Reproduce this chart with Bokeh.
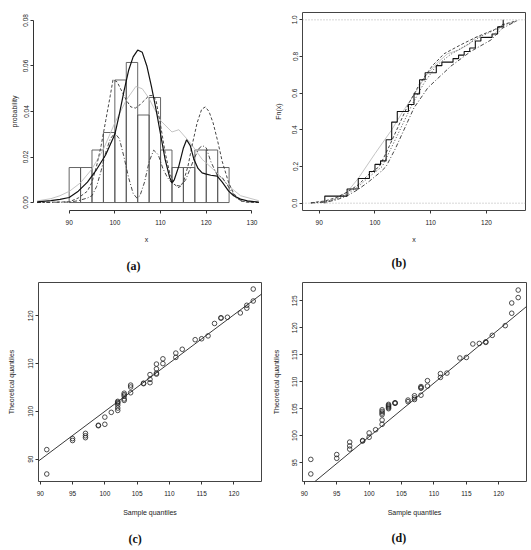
import numpy as np
from bokeh.plotting import figure
from bokeh.layouts import column, row
from bokeh.models import FixedTicker, Span, Slope, Title
from bokeh.embed import file_html
from bokeh.resources import INLINE

# ---------------- data ----------------
sample = [91, 91, 95, 95, 97, 97, 97, 99, 99, 100, 100, 101,
          102, 102, 102, 102, 102, 102, 103, 103, 103, 103, 103,
          104, 104, 104, 106, 106, 107, 107, 107, 108, 108, 108, 108,
          109, 109, 111, 111, 112, 114, 115, 116, 117, 118, 118, 119,
          121, 122, 122, 123, 123]

hist_breaks = [90, 92.5, 95, 97.5, 100, 102.5, 105, 107.5, 110,
               112.5, 115, 117.5, 120, 122.5, 125]

# (a) fitted densities
dens_solid_x = [83, 86, 88, 90, 92, 94, 96, 98, 100, 101, 102, 103, 104, 105, 106,
                107, 108, 109, 110, 111, 112, 112.5, 113, 114, 115, 115.7, 116.5,
                117.3, 118.2, 119.1, 120, 121, 122.4, 123.5, 124.9, 126, 127.5, 129, 131.5]
dens_solid_y = [0.0003, 0.0008, 0.0014, 0.0022, 0.005, 0.009, 0.0145, 0.021, 0.030,
                0.039, 0.049, 0.058, 0.064, 0.067, 0.066, 0.060, 0.051, 0.041, 0.030,
                0.019, 0.011, 0.0087, 0.010, 0.016, 0.024, 0.0276, 0.025, 0.019, 0.015,
                0.013, 0.0125, 0.012, 0.0116, 0.009, 0.005, 0.003, 0.0015, 0.0007, 0.0002]

dens_gray_x = [83, 86, 88, 90.1, 92.5, 94.9, 97.4, 100, 102.5, 104.6, 106, 107.4, 110,
               112.5, 114, 116.6, 119.1, 122.4, 124.9, 127.5, 131.5]
dens_gray_y = [0.0007, 0.0017, 0.003, 0.005, 0.0087, 0.0145, 0.023, 0.035, 0.045, 0.051,
               0.050, 0.046, 0.036, 0.031, 0.032, 0.026, 0.019, 0.013, 0.0073, 0.003, 0.0008]

dens_dash_x = [83, 90, 92, 94, 95, 96, 97, 98, 99, 99.6, 100.5, 101.5, 102.5, 103.5, 104.5,
               105.5, 106.5, 107.5, 108.3, 109, 110, 111, 112, 113, 114, 115, 116, 117, 118,
               119, 119.8, 120.6, 121.5, 122.5, 123.5, 124.9, 126, 127.5, 129, 131.5]
dens_dash_y = [0, 0.0003, 0.002, 0.005, 0.009, 0.016, 0.025, 0.036, 0.047, 0.054, 0.053,
               0.049, 0.045, 0.042, 0.0415, 0.043, 0.045, 0.047, 0.047, 0.045, 0.034, 0.022,
               0.013, 0.008, 0.0065, 0.009, 0.016, 0.026, 0.035, 0.041, 0.042, 0.040, 0.035,
               0.027, 0.018, 0.0087, 0.004, 0.0007, 0.0001, 0]

dens_dd_x = [83, 90, 92, 94, 95, 96, 97, 98, 99, 100, 101, 102, 103, 104, 104.8, 105.5,
             106.5, 107.5, 108.5, 109.5, 110.5, 111.5, 112.5, 113.5, 114.4, 115.5, 116.5,
             117.5, 118.5, 119.2, 120, 121, 122.4, 123.5, 124.5, 125.5, 126.5, 128, 131.5]
dens_dd_y = [0, 0.0002, 0.0008, 0.002, 0.003, 0.007, 0.014, 0.022, 0.028, 0.0305, 0.028,
             0.020, 0.011, 0.004, 0.002, 0.003, 0.009, 0.018, 0.023, 0.021, 0.015, 0.011,
             0.0085, 0.0075, 0.0072, 0.010, 0.015, 0.020, 0.024, 0.025, 0.024, 0.018, 0.012,
             0.011, 0.008, 0.005, 0.002, 0.0005, 0]

# (b) fitted distribution functions
cdf_gray_x = [91, 93, 95, 97, 100, 103, 105, 107, 109, 111, 113, 115, 117, 118, 121, 122, 123]
cdf_gray_y = [0.0, 0.025, 0.06, 0.135, 0.27, 0.40, 0.50, 0.59, 0.69, 0.76, 0.815, 0.835,
              0.87, 0.905, 0.91, 0.94, 0.98]
cdf_dash_x = [88.5, 91, 93, 95, 97, 99, 100.8, 102.4, 104.2, 106.0, 108.0, 110.3, 112.4,
              115.4, 118.4, 121.4, 123, 125.5]
cdf_dash_y = [0.002, 0.012, 0.03, 0.06, 0.10, 0.16, 0.20, 0.30, 0.42, 0.54, 0.65, 0.75,
              0.815, 0.864, 0.909, 0.946, 0.975, 0.995]
cdf_dot_x = [88.5, 91, 93, 95, 97, 99, 101.3, 102.9, 104.8, 106.7, 108.7, 111.0, 113.5,
             116, 119, 121.5, 123, 125.5]
cdf_dot_y = [0.001, 0.008, 0.022, 0.05, 0.09, 0.145, 0.20, 0.30, 0.42, 0.54, 0.65, 0.75,
             0.81, 0.855, 0.91, 0.945, 0.97, 0.995]
cdf_dd_x = [88.5, 91, 93, 95, 97, 99, 101, 102.0, 103.7, 105.5, 107.0, 109.5, 113.6, 117.2,
            120.8, 122.9, 125.5]
cdf_dd_y = [0.001, 0.005, 0.017, 0.04, 0.075, 0.12, 0.17, 0.20, 0.30, 0.42, 0.52, 0.63,
            0.747, 0.828, 0.89, 0.955, 0.995]
ref_levels = [0, 1]

# (c), (d) theoretical quantiles against the sorted sample
theo_c = [86.9, 92.0, 93.9, 94.3, 94.5, 94.9, 95.4, 97.0, 97.1, 97.3, 98.8, 99.8,
          100.2, 100.7, 101.3, 101.7, 101.9, 102.1, 102.3, 102.6, 103.2, 103.5, 103.8,
          103.9, 105.1, 105.5, 105.8, 105.9, 106.0, 106.7, 107.7, 107.8, 108.0, 108.9,
          109.9, 110.0, 111.0, 111.3, 112.2, 113.0, 115.0, 115.2, 115.8, 118.4, 119.5,
          119.6, 119.7, 120.6, 121.6, 122.2, 123.1, 125.6]
theo_d = [92.9, 95.6, 95.8, 96.5, 97.5, 98.1, 98.8, 99.0, 99.1, 99.7, 100.5, 101.1,
          102.1, 102.9, 103.9, 104.2, 104.5, 104.8, 105.0, 105.2, 105.4, 105.6, 105.8,
          106.0, 106.05, 106.1, 106.3, 106.6, 106.7, 107.0, 107.4, 107.5, 108.8, 108.9,
          109.1, 109.2, 110.2, 110.8, 111.5, 111.6, 114.4, 114.5, 117.0, 117.1, 117.3,
          117.4, 118.6, 120.4, 122.7, 124.6, 125.6, 127.0]
qqline_c = dict(slope=1.0105, intercept=-1.045)
qqline_d = dict(slope=0.994, intercept=0.41)

# ticks
a_xticks = [90, 100, 110, 120, 130]
a_xlabels = ["90", "100", "110", "120", "130"]
a_yticks = [0, 0.02, 0.04, 0.06, 0.08]
a_ylabels = ["0.00", "0.02", "0.04", "0.06", "0.08"]
b_xticks = [90, 100, 110, 120]
b_xlabels = ["90", "100", "110", "120"]
b_yticks = [0, 0.2, 0.4, 0.6, 0.8, 1.0]
b_ylabels = ["0.0", "0.2", "0.4", "0.6", "0.8", "1.0"]
qq_xticks = [90, 95, 100, 105, 110, 115, 120]
qq_xlabels = ["90", "95", "100", "105", "110", "115", "120"]
c_yticks = [90, 100, 110, 120]
c_ylabels = ["90", "100", "110", "120"]
d_yticks = [95, 100, 105, 110, 115, 120, 125]
d_ylabels = ["95", "100", "105", "110", "115", "120", "125"]

# ---------------- styling helpers ----------------
FONT = "Liberation Sans"
SERIF = "Liberation Serif"
INK = "#222222"


def make_fig(w, h, borders, xr, yr, box):
    p = figure(width=w, height=h, x_range=xr, y_range=yr,
               output_backend="svg", toolbar_location=None,
               min_border_left=borders[0], min_border_right=borders[1],
               min_border_top=borders[2], min_border_bottom=borders[3])
    p.grid.visible = False
    p.background_fill_color = "white"
    p.border_fill_color = "white"
    p.outline_line_color = "#444444" if box else None
    p.outline_line_width = 1
    for ax in p.axis:
        ax.major_tick_out = 3
        ax.major_tick_in = 0
        ax.minor_tick_out = 0
        ax.minor_tick_in = 0
        ax.major_tick_line_color = "#333333"
        ax.axis_line_color = "#333333" if not box else None
        ax.major_label_text_font = FONT
        ax.major_label_text_font_size = "6.5px"
        ax.major_label_text_color = INK
        ax.axis_label_text_font = FONT
        ax.axis_label_text_font_size = "7px"
        ax.axis_label_text_font_style = "normal"
        ax.axis_label_text_color = INK
    p.xaxis.major_label_standoff = 6
    p.yaxis.major_label_standoff = 2
    p.yaxis.major_label_orientation = "vertical"
    return p


def set_ticks(axis, ticks, labels):
    axis.ticker = FixedTicker(ticks=ticks)
    axis.major_label_overrides = {t: s for t, s in zip(ticks, labels)}


def caption(p, text, offset, gap):
    # empty spacer line pushes the caption further below the axis label
    p.add_layout(Title(text=" ", text_font=SERIF, text_font_size=f"{gap}px",
                       standoff=0), "below")
    p.add_layout(Title(text=text, text_font=SERIF, text_font_size="12px",
                       text_font_style="bold", text_color="#111111",
                       align="left", offset=offset, standoff=0), "below")


# ---------------- (a) histogram + densities ----------------
n = len(sample)
arr = np.array(sample, dtype=float)
lefts = np.array(hist_breaks[:-1])
rights = np.array(hist_breaks[1:])
counts = np.array([np.sum((arr > lo) & (arr <= hi)) for lo, hi in zip(lefts, rights)])
dens = counts / (n * (rights - lefts))

pa = make_fig(265, 277, (33, 6, 12, 65), (82.2, 131.65), (-0.0035, 0.0835), box=False)
pa.quad(left=lefts, right=rights, bottom=0, top=dens, fill_color=None,
        line_color="#555555", line_width=0.9)
pa.line(dens_gray_x, dens_gray_y, line_color="#bdbdbd", line_width=0.9)
pa.line(dens_dd_x, dens_dd_y, line_color="#333333", line_width=0.9, line_dash="4 2 1 2")
pa.line(dens_dash_x, dens_dash_y, line_color="#333333", line_width=0.9, line_dash="3 2")
pa.line(dens_solid_x, dens_solid_y, line_color="#111111", line_width=1.2)
pa.xaxis.axis_label = "x"
pa.yaxis.axis_label = "probability"
pa.xaxis.axis_label_standoff = 8
pa.yaxis.axis_label_standoff = 3
pa.xaxis.bounds = (a_xticks[0], a_xticks[-1])
pa.yaxis.bounds = (a_yticks[0], a_yticks[-1])
set_ticks(pa.xaxis, a_xticks, a_xlabels)
set_ticks(pa.yaxis, a_yticks, a_ylabels)
caption(pa, "(a)", 93, 8)

# ---------------- (b) ECDF ----------------
xs, cnt = np.unique(arr, return_counts=True)
F = np.cumsum(cnt) / n
step_x = np.concatenate([[xs[0]], xs])
step_y = np.concatenate([[0.0], F])

pb = make_fig(266, 277, (37, 6, 11, 67), (87.0, 127.0), (-0.04, 1.04), box=True)
for lev in ref_levels:
    pb.add_layout(Span(location=lev, dimension="width", line_color="#9a9a9a",
                       line_width=0.8, line_dash="1 2"))
pb.line(cdf_gray_x, cdf_gray_y, line_color="#bdbdbd", line_width=0.9)
pb.line(cdf_dd_x, cdf_dd_y, line_color="#333333", line_width=0.9, line_dash="4 2 1 2")
pb.line(cdf_dot_x, cdf_dot_y, line_color="#333333", line_width=0.9, line_dash="1 2")
pb.line(cdf_dash_x, cdf_dash_y, line_color="#333333", line_width=0.9, line_dash="3 2")
pb.step(step_x, step_y, mode="after", line_color="#111111", line_width=1.1)
pb.xaxis.axis_label = "x"
pb.yaxis.axis_label = "Fn(x)"
pb.xaxis.axis_label_standoff = 8
pb.yaxis.axis_label_standoff = 8
set_ticks(pb.xaxis, b_xticks, b_xlabels)
set_ticks(pb.yaxis, b_yticks, b_ylabels)
caption(pb, "(b)", 89, 6)

# ---------------- (c) QQ ----------------
pc = make_fig(265, 273, (38, 4, 4, 69), (89.72, 124.28), (85.33, 126.97), box=True)
pc.add_layout(Slope(gradient=qqline_c["slope"], y_intercept=qqline_c["intercept"],
                    line_color="#222222", line_width=0.9))
pc.scatter(sample, theo_c, marker="circle", size=4.6, fill_color=None,
           line_color="#222222", line_width=0.8)
pc.xaxis.axis_label = "Sample quantiles"
pc.yaxis.axis_label = "Theoretical quantiles"
pc.xaxis.axis_label_standoff = 10
pc.yaxis.axis_label_standoff = 11
set_ticks(pc.xaxis, qq_xticks, qq_xlabels)
set_ticks(pc.yaxis, c_yticks, c_ylabels)
caption(pc, "(c)", 90, 8)

# ---------------- (d) QQ ----------------
pd_ = make_fig(266, 273, (37, 5, 5, 68), (89.72, 124.28), (91.5, 128.4), box=True)
pd_.add_layout(Slope(gradient=qqline_d["slope"], y_intercept=qqline_d["intercept"],
                     line_color="#222222", line_width=0.9))
pd_.scatter(sample, theo_d, marker="circle", size=4.6, fill_color=None,
            line_color="#222222", line_width=0.8)
pd_.xaxis.axis_label = "Sample quantiles"
pd_.yaxis.axis_label = "Theoretical quantiles"
pd_.xaxis.axis_label_standoff = 10
pd_.yaxis.axis_label_standoff = 10
set_ticks(pd_.xaxis, qq_xticks, qq_xlabels)
set_ticks(pd_.yaxis, d_yticks, d_ylabels)
caption(pd_, "(d)", 89, 7)

layout = column(row(pa, pb), row(pc, pd_))
open("out.html", "w").write(file_html(layout, INLINE))
